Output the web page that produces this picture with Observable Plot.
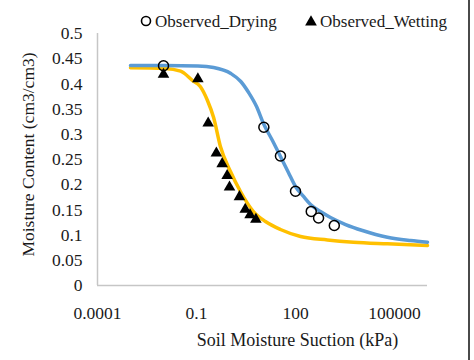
<!DOCTYPE html>
<html>
<head>
<meta charset="utf-8">
<script src="https://cdn.jsdelivr.net/npm/d3@7"></script>
<script src="https://cdn.jsdelivr.net/npm/@observablehq/plot@0.6"></script>
<style>
  html, body { margin: 0; padding: 0; background: white; }
  #wrap { position: relative; width: 474px; height: 360px; overflow: hidden; font-family: "Liberation Serif", serif; color: #1a1a1a; }
  #legend { position: absolute; left: 0; top: 0; }
  #border { position: absolute; left: 468px; top: 0; width: 1.5px; height: 360px; background: #4a4a4a; }
</style>
</head>
<body>
<div id="wrap">
  <div id="chart"></div>
  <svg id="legend" width="474" height="34"></svg>
  <div id="border"></div>
</div>
<script>
// Observed drying (circles)
const dryObsSuction = [0.01, 11, 35, 100, 300, 500, 1500];
const dryObsTheta   = [0.436, 0.314, 0.257, 0.187, 0.147, 0.134, 0.119];

// Observed wetting (triangles)
const wetObsSuction = [0.01, 0.11, 0.226, 0.40, 0.60, 0.85, 1.0, 2.0, 3.0, 4.2, 6.3];
const wetObsTheta   = [0.419, 0.410, 0.322, 0.2625, 0.2415, 0.218, 0.195, 0.176, 0.151, 0.140, 0.131];

// Fitted drying curve (blue)
const dryFitSuction = [0.001, 0.011, 0.11, 0.33, 1.1, 2.2, 3.8, 6.6, 10.7, 20, 35, 61, 100, 175, 285, 570, 1150, 3300, 10700, 61000, 305000, 1000000];
const dryFitTheta   = [0.4365, 0.4365, 0.4355, 0.4325, 0.4206, 0.4048, 0.3829, 0.3552, 0.3214, 0.2877, 0.2560, 0.2242, 0.1964, 0.1766, 0.1607, 0.1468, 0.1349, 0.1210, 0.1091, 0.0958, 0.0893, 0.0859];

// Fitted wetting curve (orange)
const wetFitSuction = [0.001, 0.011, 0.033, 0.076, 0.13, 0.215, 0.33, 0.53, 1.07, 2.15, 5.3, 12.3, 35, 142, 930, 5700, 61000, 1000000];
const wetFitTheta   = [0.4319, 0.4306, 0.4252, 0.4067, 0.3948, 0.3671, 0.3333, 0.2758, 0.2262, 0.1865, 0.1468, 0.1270, 0.1111, 0.0972, 0.0903, 0.0859, 0.0827, 0.0794];

// Axis ticks
const xTickValues = [0.0001, 0.1, 100, 100000];
const xTickLabels = ["0.0001", "0.1", "100", "100000"];
const yTickValues = [0, 0.05, 0.1, 0.15, 0.2, 0.25, 0.3, 0.35, 0.4, 0.45, 0.5];
const yTickLabels = ["0", "0.05", "0.1", "0.15", "0.2", "0.25", "0.3", "0.35", "0.4", "0.45", "0.5"];

const xTitle = "Soil Moisture Suction (kPa)";
const yTitle = "Moisture Content (cm3/cm3)";
const legendLabels = ["Observed_Drying", "Observed_Wetting"];

const zip = (xs, ys) => xs.map((x, i) => ({x, y: ys[i]}));
const dryObs = zip(dryObsSuction, dryObsTheta);
const wetObs = zip(wetObsSuction, wetObsTheta);
const dryFit = zip(dryFitSuction, dryFitTheta);
const wetFit = zip(wetFitSuction, wetFitTheta);

const AXIS = "#c6c6c6";
const BLUE = "#5B9BD5";
const ORANGE = "#FFC000";

const chart = Plot.plot({
  width: 474,
  height: 360,
  marginLeft: 97,
  marginRight: 47,
  marginTop: 33,
  marginBottom: 75,
  style: {fontFamily: "'Liberation Serif', serif", fontSize: "17.5px", color: "#1a1a1a", background: "white"},
  x: {type: "log", domain: [0.0001, 1000000]},
  y: {domain: [0, 0.5]},
  marks: [
    Plot.axisX({ticks: xTickValues, tickFormat: d => xTickLabels[xTickValues.indexOf(d)], tickSize: 0, tickPadding: 21, label: null}),
    Plot.axisY({ticks: yTickValues, tickFormat: d => yTickLabels[yTickValues.indexOf(d)], tickSize: 0, tickPadding: 15, label: null}),
    Plot.ruleY([0], {stroke: AXIS, strokeWidth: 1.5}),
    Plot.ruleX([0.0001], {y1: 0, y2: 0.5, stroke: AXIS, strokeWidth: 1.5}),
    Plot.line(wetFit, {x: "x", y: "y", stroke: ORANGE, strokeWidth: 3.5, curve: "monotone-x"}),
    Plot.line(dryFit, {x: "x", y: "y", stroke: BLUE, strokeWidth: 3.5, curve: "monotone-x"}),
    Plot.dot(dryObs, {x: "x", y: "y", r: 5, stroke: "black", strokeWidth: 1.5, fill: "none"}),
    Plot.dot(wetObs, {x: "x", y: "y", symbol: "triangle", r: 4.3, fill: "black", stroke: "none"}),
    Plot.text([xTitle], {text: d => d, frameAnchor: "bottom", textAnchor: "middle", dx: 35, dy: 60, fontSize: 18, fill: "#1a1a1a"}),
    Plot.text([yTitle], {text: d => d, frameAnchor: "left", textAnchor: "middle", rotate: -90, dx: -69, dy: -5, fontSize: 17.5, fill: "#1a1a1a"})
  ]
});
document.getElementById("chart").appendChild(chart);

// Legend
const lg = d3.select("#legend");
lg.append("circle").attr("cx", 146).attr("cy", 21).attr("r", 4.5).attr("fill", "none").attr("stroke", "black").attr("stroke-width", 1.6);
lg.append("text").attr("x", 155).attr("y", 27).attr("font-size", 17).attr("font-family", "'Liberation Serif', serif").attr("fill", "#1a1a1a").text(legendLabels[0]);
lg.append("path").attr("d", d3.symbol(d3.symbolTriangle, 60)()).attr("transform", "translate(311,22)").attr("fill", "black");
lg.append("text").attr("x", 320).attr("y", 27).attr("font-size", 17).attr("font-family", "'Liberation Serif', serif").attr("fill", "#1a1a1a").text(legendLabels[1]);
</script>
</body>
</html>
